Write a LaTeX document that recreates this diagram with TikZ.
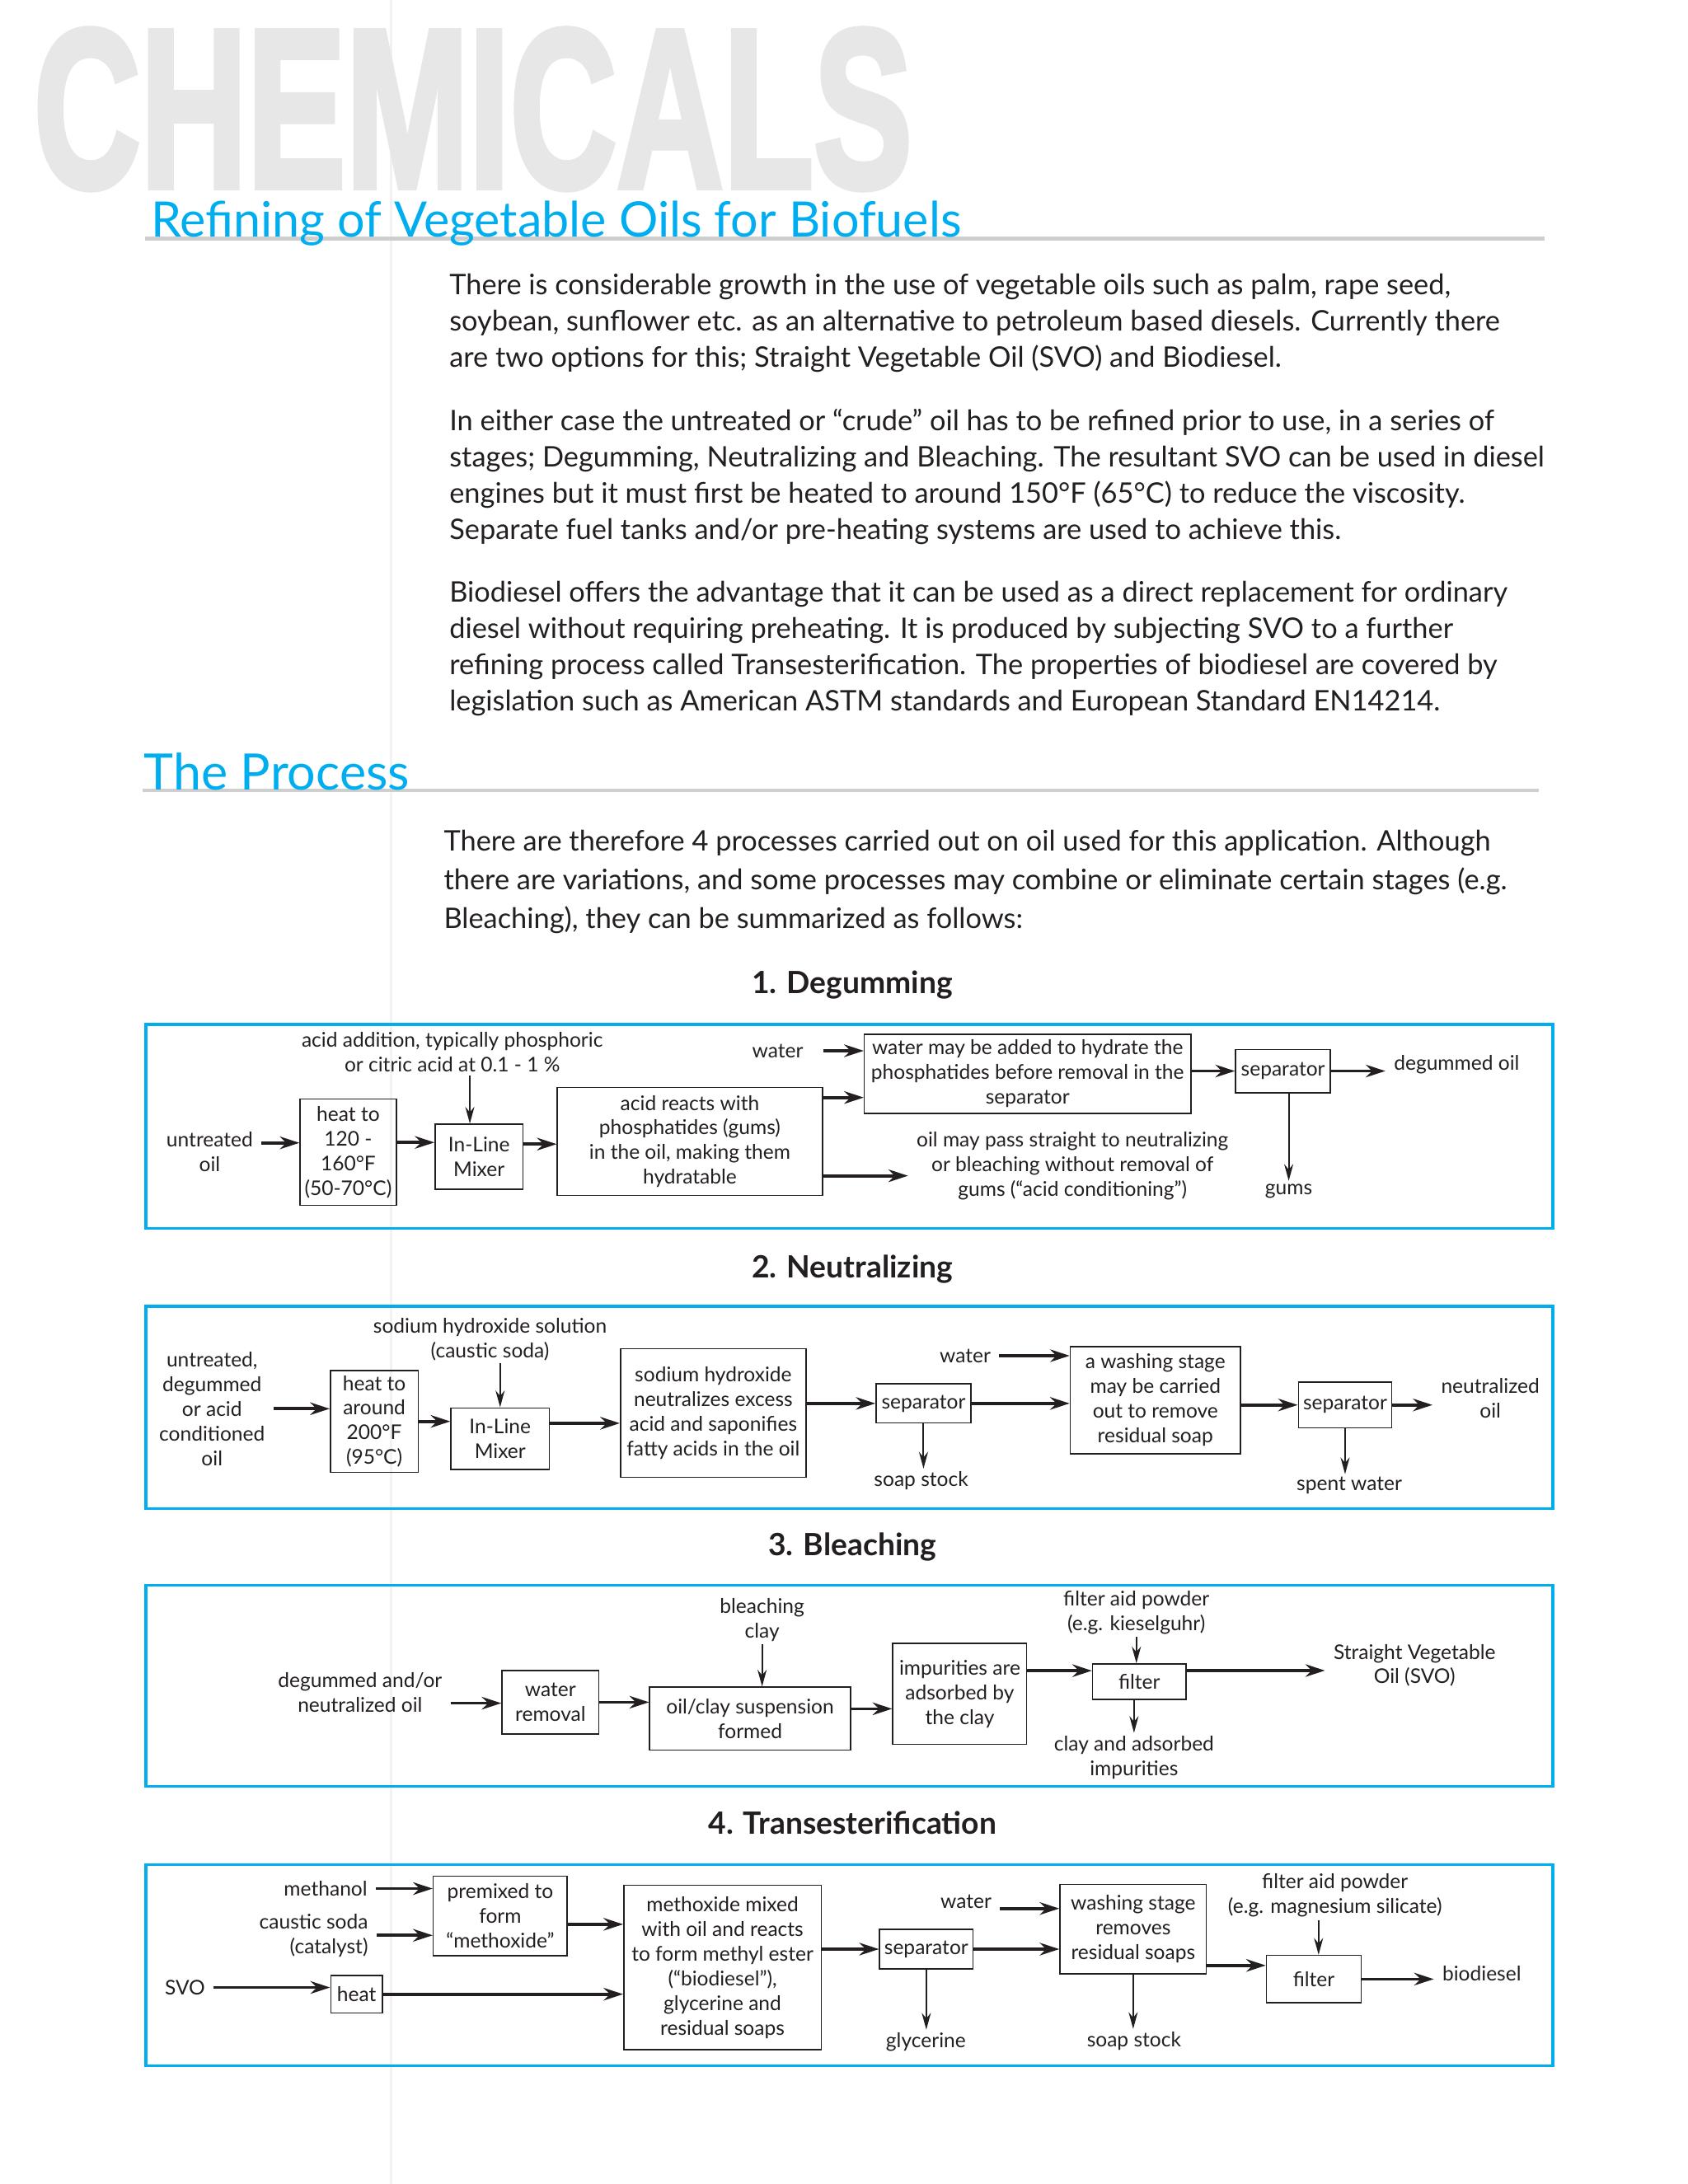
\documentclass[tikz,border=0pt]{standalone}
\usepackage{fontspec}
\usepackage{graphicx}
\setmainfont{Lato}
\newfontfamily\ghostfont{Liberation Sans}[BoldFeatures={FakeBold=3}]
\usetikzlibrary{positioning,arrows.meta,calc}

\definecolor{procyan}{RGB}{0,174,239}
\definecolor{inkgrey}{RGB}{35,31,32}
\definecolor{rulegrey}{RGB}{206,206,206}
\definecolor{ghostgrey}{RGB}{231,231,231}
\definecolor{gutter}{RGB}{242,242,242}

\newcommand{\diagfont}{\fontsize{14.5}{17.7}\selectfont}
\newcommand{\bodyfont}{\fontsize{20.3}{26}\selectfont}

\tikzset{
  unit/.style={draw=inkgrey, line width=0.9pt, align=center, font=\diagfont, inner sep=1pt, text=inkgrey},
  boxsize/.style 2 args={minimum width=#1, minimum height=#2},
  lbl/.style={align=center, font=\diagfont, inner xsep=6pt, inner ysep=2pt, text=inkgrey},
  harrow/.style={-{Stealth[length=14pt,width=9pt]}, line width=2.2pt, draw=inkgrey},
  varrow/.style={-{Stealth[length=12pt,width=6.5pt]}, line width=1.2pt, draw=inkgrey},
  panel/.style={draw=procyan, line width=2pt},
  stagehead/.style={font=\fontsize{22}{24}\selectfont\bfseries, text=inkgrey, anchor=base, inner sep=0},
  bodytext/.style={font=\bodyfont, text=inkgrey, align=left, anchor=base west, inner sep=0},
}

\begin{document}
\begin{tikzpicture}[x=1pt, y=-1pt]
  \useasboundingbox (0,0) rectangle (1210,1565.7);

  % Page furniture
  \draw[gutter, line width=2pt] (280.5,0) -- (280.5,1565.7);
  \node[anchor=base west, inner sep=0, text depth=0pt, text=ghostgrey, font=\ghostfont\bfseries\fontsize{162}{162}\selectfont] (ghost) at (24,134) {\scalebox{0.654}[1]{CHEMICALS}};
  \draw[rulegrey, line width=2.5pt] (104,171) -- (1107,171);
  \node[anchor=base west, inner sep=0, text=procyan, font=\fontsize{35}{38}\selectfont] (maintitle) at (108,170) {Refining of Vegetable Oils for Biofuels};

  % paragraphs are anchored at the baseline of their last line
  \node[bodytext] (introA) at (322,263.5) {There is considerable growth in the use of vegetable oils such as palm, rape seed,\\soybean, sunflower etc. as an alternative to petroleum based diesels.  Currently there\\are two options for this; Straight Vegetable Oil (SVO) and Biodiesel.};
  \node[bodytext] (introB) at (322,386.5) {In either case the untreated or “crude” oil has to be refined prior to use, in a series of\\stages; Degumming, Neutralizing and Bleaching.  The resultant SVO can be used in diesel\\engines but it must first be heated to around 150°F (65°C) to reduce the viscosity.\\Separate fuel tanks and/or pre-heating systems are used to achieve this.};
  \node[bodytext] (introC) at (322,509.5) {Biodiesel offers the advantage that it can be used as a direct replacement for ordinary\\diesel without requiring preheating.  It is produced by subjecting SVO to a further\\refining process called Transesterification.  The properties of biodiesel are covered by\\legislation such as American ASTM standards and European Standard EN14214.};

  \draw[rulegrey, line width=2.5pt] (102,566.5) -- (1103,566.5);
  \node[anchor=base west, inner sep=0, text=procyan, font=\fontsize{36}{40}\selectfont] (proctitle) at (103,566.5) {The Process};
  \node[bodytext, font=\fontsize{20.3}{27.8}\selectfont] (procintro) at (318,665.7) {There are therefore 4 processes carried out on oil used for this application.  Although\\there are variations, and some processes may combine or eliminate certain stages (e.g.\\Bleaching), they can be summarized as follows:};

  % 1. Degumming
  \node[stagehead] (headA) at (611,712) {1. Degumming};
  \draw[panel] (104.5,734.5) rectangle (1113,880.5);
  \node[lbl] (oilA) at (150.3,825.5) {untreated\\oil};
  \node[lbl] (acidA) at (324.2,754.3) {acid addition, typically phosphoric\\or citric acid at 0.1 - 1 \%};
  \node[unit, boxsize={69pt}{76pt}] (heatA) at (249.6,826) {heat to\\120 -\\160°F\\(50-70°C)};
  \node[unit, boxsize={63pt}{46.5pt}] (mixA) at (343.4,829.2) {In-Line\\Mixer};
  \node[unit, boxsize={190pt}{77.5pt}] (reactA) at (494.5,818.3) {acid reacts with\\phosphatides (gums)\\in the oil, making them\\hydratable};
  \node[lbl] (waterA) at (557.5,753.3) {water};
  \node[unit, boxsize={234pt}{56.5pt}] (hydrA) at (736.6,769.8) {water may be added to hydrate the\\phosphatides before removal in the\\separator};
  \node[unit, boxsize={68pt}{31pt}] (sepA) at (919.7,767.8) {separator};
  \node[lbl] (degoilA) at (1044.2,763.1) {degummed oil};
  \node[lbl] (gumsA) at (923.8,853.8) {gums};
  \node[lbl] (passA) at (768.8,835.6) {oil may pass straight to neutralizing\\or bleaching without removal of\\gums (“acid conditioning”)};

  \draw[harrow] ([yshift=6.2pt]oilA.east) -- ([yshift=6.2pt]oilA.east -| heatA.west);
  \draw[harrow] ([yshift=7pt]heatA.east) -- ([yshift=7pt]heatA.east -| mixA.west);
  \draw[harrow] ([yshift=9pt]mixA.east) -- ([yshift=9pt]mixA.east -| reactA.west);
  \draw[varrow] ([xshift=-6.6pt]mixA.north |- acidA.south) -- ([xshift=-6.6pt]mixA.north);
  \draw[harrow] (reactA.east |- waterA) -- (hydrA.west |- waterA);
  \draw[harrow] ([yshift=31.5pt]reactA.east) -- ([yshift=31.5pt]reactA.east -| hydrA.west);
  \draw[harrow] ([yshift=-24.6pt]reactA.east) -- ([yshift=-24.6pt]reactA.east -| passA.west);
  \draw[harrow] (hydrA.east |- sepA) -- (sepA.west);
  \draw[harrow] (sepA.east) -- (sepA.east -| degoilA.west);
  \draw[varrow] (sepA.south -| gumsA) -- (gumsA.north);

  % 2. Neutralizing
  \node[stagehead] (headB) at (611,916) {2. Neutralizing};
  \draw[panel] (104.5,936.5) rectangle (1113,1081.5);
  \node[lbl] (oilB) at (152,1009.9) {untreated,\\degummed\\or acid\\conditioned\\oil};
  \node[lbl] (sodaB) at (351.3,960) {sodium hydroxide solution\\(caustic soda)};
  \node[unit, boxsize={63pt}{73pt}] (heatB) at (268.3,1019) {heat to\\around\\200°F\\(95°C)};
  \node[unit, boxsize={70.5pt}{44pt}] (mixB) at (358.5,1031.3) {In-Line\\Mixer};
  \node[unit, boxsize={133pt}{92pt}] (neutB) at (511.3,1013) {sodium hydroxide\\neutralizes excess\\acid and saponifies\\fatty acids in the oil};
  \node[unit, boxsize={68pt}{28pt}] (sepB) at (662,1006.1) {separator};
  \node[lbl] (soapB) at (660.3,1061.6) {soap stock};
  \node[lbl] (waterB) at (691.9,971.9) {water};
  \node[unit, boxsize={122pt}{77pt}] (washB) at (828.2,1003.8) {a washing stage\\may be carried\\out to remove\\residual soap};
  \node[unit, boxsize={67pt}{33pt}] (sepBB) at (964.2,1007.2) {separator};
  \node[lbl] (neutoilB) at (1068.3,1002.5) {neutralized\\oil};
  \node[lbl] (spentB) at (967.2,1065.1) {spent water};

  \draw[harrow] (oilB.east) -- (oilB.east -| heatB.west);
  \draw[harrow] (heatB.east) -- (heatB.east -| mixB.west);
  \draw[varrow] (sodaB.south -| mixB.north) -- (mixB.north);
  \draw[harrow] ([yshift=11pt]mixB.east) -- ([yshift=11pt]mixB.east -| neutB.west);
  \draw[harrow] (neutB.east |- sepB) -- (sepB.west);
  \draw[varrow] (sepB.south) -- (sepB.south |- soapB.north);
  \draw[harrow] (sepB.east) -- (sepB.east -| washB.west);
  \draw[harrow] (waterB.east) -- (waterB.east -| washB.west);
  \draw[harrow] (washB.east |- sepBB) -- (sepBB.west);
  \draw[harrow] (sepBB.east) -- (sepBB.east -| neutoilB.west);
  \draw[varrow] (sepBB.south) -- (sepBB.south |- spentB.north);

  % 3. Bleaching
  \node[stagehead] (headC) at (611,1115) {3. Bleaching};
  \draw[panel] (104.5,1136.5) rectangle (1113,1280.5);
  \node[lbl] (oilC) at (258.1,1213.1) {degummed and/or\\neutralized oil};
  \node[unit, boxsize={69.5pt}{45.5pt}] (dryC) at (394.6,1220.3) {water\\removal};
  \node[lbl] (clayC) at (546.3,1161.1) {bleaching\\clay};
  \node[unit, boxsize={144pt}{45pt}] (suspC) at (537.7,1232) {oil/clay suspension\\formed};
  \node[unit, boxsize={96pt}{72.5pt}] (adsC) at (688,1214.3) {impurities are\\adsorbed by\\the clay};
  \node[lbl] (aidC) at (814.6,1155.8) {filter aid powder\\(e.g. kieselguhr)};
  \node[unit, boxsize={67pt}{25.5pt}] (filtC) at (816.7,1205.6) {filter};
  \node[lbl] (residC) at (812.9,1259.9) {clay and adsorbed\\impurities};
  \node[lbl] (svoC) at (1014,1193.9) {Straight Vegetable\\Oil (SVO)};

  \draw[harrow] ([yshift=-7.9pt]oilC.east) -- ([yshift=-7.9pt]oilC.east -| dryC.west);
  \draw[harrow] (dryC.east) -- (dryC.east -| suspC.west);
  \draw[varrow] (clayC.south) -- (clayC.south |- suspC.north);
  \draw[harrow] ([yshift=7pt]suspC.east) -- ([yshift=7pt]suspC.east -| adsC.west);
  \draw[harrow] ([yshift=16.6pt]adsC.east) -- ([yshift=16.6pt]adsC.east -| filtC.west);
  \draw[varrow] (aidC.south) -- (aidC.south |- filtC.north);
  \draw[varrow] (residC.north |- filtC.south) -- (residC.north);
  \draw[harrow] ([yshift=8pt]filtC.east) -- ([yshift=8pt]filtC.east -| svoC.west);

  % 4. Transesterification
  \node[stagehead] (headD) at (611,1315) {4. Transesterification};
  \draw[panel] (104.5,1336.8) rectangle (1113,1481);
  \node[lbl, anchor=east] (methD) at (269.5,1353.9) {methanol};
  \node[lbl, align=right, anchor=east] (sodaD) at (270,1387.4) {caustic soda\\(catalyst)};
  \node[unit, boxsize={96pt}{57pt}] (premD) at (358.6,1373.6) {premixed to\\form\\“methoxide”};
  \node[lbl] (svoD) at (132.6,1424.8) {SVO};
  \node[unit, boxsize={37pt}{27pt}] (heatD) at (255.6,1429.6) {heat};
  \node[unit, boxsize={141.5pt}{118pt}] (mixD) at (517.9,1410.5) {methoxide mixed\\with oil and reacts\\to form methyl ester\\(“biodiesel”),\\glycerine and\\residual soaps};
  \node[unit, boxsize={67pt}{28.5pt}] (sepD) at (664,1397.3) {separator};
  \node[lbl] (glycD) at (663.7,1463.9) {glycerine};
  \node[lbl] (waterD) at (692.5,1363.2) {water};
  \node[unit, boxsize={105pt}{64pt}] (washD) at (812.3,1383) {washing stage\\removes\\residual soaps};
  \node[lbl] (soapD) at (812.9,1463.3) {soap stock};
  \node[lbl] (aidD) at (957,1358.9) {filter aid powder\\(e.g. magnesium silicate)};
  \node[unit, boxsize={68pt}{34pt}] (filtD) at (941.8,1418.8) {filter};
  \node[lbl] (bioD) at (1062.2,1415) {biodiesel};

  \draw[harrow] (methD.east) -- (methD.east -| premD.west);
  \draw[harrow] (sodaD.east) -- (sodaD.east -| premD.west);
  \draw[harrow] ([yshift=-5.9pt]premD.east) -- ([yshift=-5.9pt]premD.east -| mixD.west);
  \draw[harrow] (svoD.east) -- (svoD.east -| heatD.west);
  \draw[harrow] (heatD.east) -- (heatD.east -| mixD.west);
  \draw[harrow] (mixD.east |- sepD) -- (sepD.west);
  \draw[varrow] (sepD.south) -- (sepD.south |- glycD.north);
  \draw[harrow] (sepD.east) -- (sepD.east -| washD.west);
  \draw[harrow] ([yshift=-5pt]waterD.east) -- ([yshift=-5pt]waterD.east -| washD.west);
  \draw[varrow] (washD.south) -- (washD.south |- soapD.north);
  \draw[harrow] ([yshift=-26pt]washD.east) -- ([yshift=-26pt]washD.east -| filtD.west);
  \draw[varrow] ([xshift=3.4pt]filtD.north |- aidD.south) -- ([xshift=3.4pt]filtD.north);
  \draw[harrow] (filtD.east) -- (filtD.east -| bioD.west);
\end{tikzpicture}
\end{document}
